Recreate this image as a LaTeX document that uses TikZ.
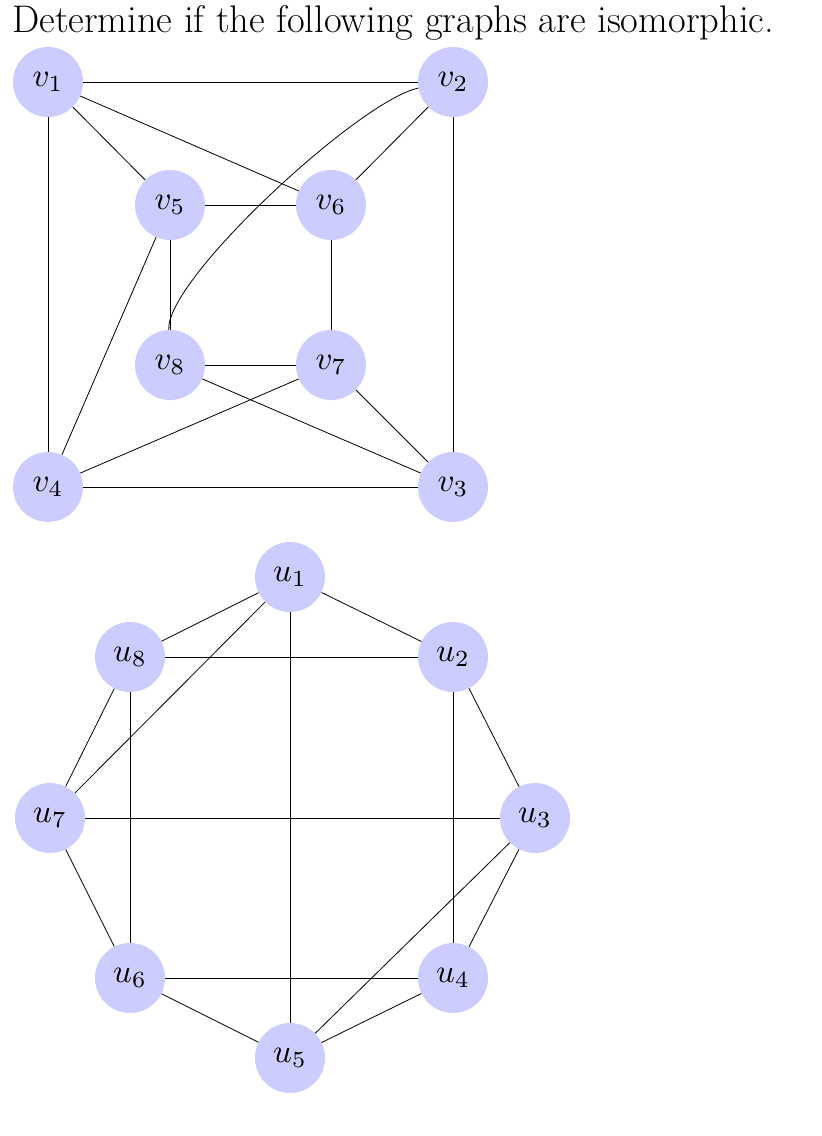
\documentclass[tikz,border=0pt]{standalone}
\newcommand{\vlab}[1]{\scalebox{3.3}{$#1$}}
\begin{document}
\begin{tikzpicture}[x=1pt,y=-1pt,
  vtx/.style={circle,fill=blue!20,minimum size=70pt,inner sep=0pt,font=\fontsize{10}{12}\selectfont},
  edge/.style={draw=black,line width=0.8pt}]
\useasboundingbox (0,0) rectangle (822,1136);
\node[anchor=base west,inner sep=0pt,font=\fontsize{38.5}{46}\selectfont] (title) at (12,32) {Determine if the following graphs are isomorphic.};
\node[vtx] (v1) at (48,82) {\vlab{v_1}};
\node[vtx] (v2) at (453,82) {\vlab{v_2}};
\node[vtx] (v5) at (170,205) {\vlab{v_5}};
\node[vtx] (v6) at (331,205) {\vlab{v_6}};
\node[vtx] (v8) at (170,365) {\vlab{v_8}};
\node[vtx] (v7) at (331,365) {\vlab{v_7}};
\node[vtx] (v4) at (48,487) {\vlab{v_4}};
\node[vtx] (v3) at (453,487) {\vlab{v_3}};
\foreach \a/\b in {v1/v2,v1/v5,v1/v6,v1/v4,v2/v6,v2/v3,v5/v6,v5/v8,v5/v4,v6/v7,v8/v7,v8/v3,v7/v3,v7/v4,v4/v3}
  \draw[edge] (\a) -- (\b);
\draw[edge] (v2.190) .. controls (360,100) and (165,280) .. (v8.92);
\node[vtx] (u1) at (290,577) {\vlab{u_1}};
\node[vtx] (u8) at (130,657) {\vlab{u_8}};
\node[vtx] (u2) at (453,657) {\vlab{u_2}};
\node[vtx] (u7) at (50,818) {\vlab{u_7}};
\node[vtx] (u3) at (535,818) {\vlab{u_3}};
\node[vtx] (u6) at (130,978) {\vlab{u_6}};
\node[vtx] (u4) at (453,978) {\vlab{u_4}};
\node[vtx] (u5) at (290,1058) {\vlab{u_5}};
\foreach \a/\b in {u1/u8,u1/u2,u1/u7,u1/u5,u8/u2,u8/u7,u8/u6,u2/u3,u2/u4,u7/u3,u7/u6,u3/u4,u3/u5,u6/u4,u6/u5,u4/u5}
  \draw[edge] (\a) -- (\b);
\end{tikzpicture}
\end{document}
